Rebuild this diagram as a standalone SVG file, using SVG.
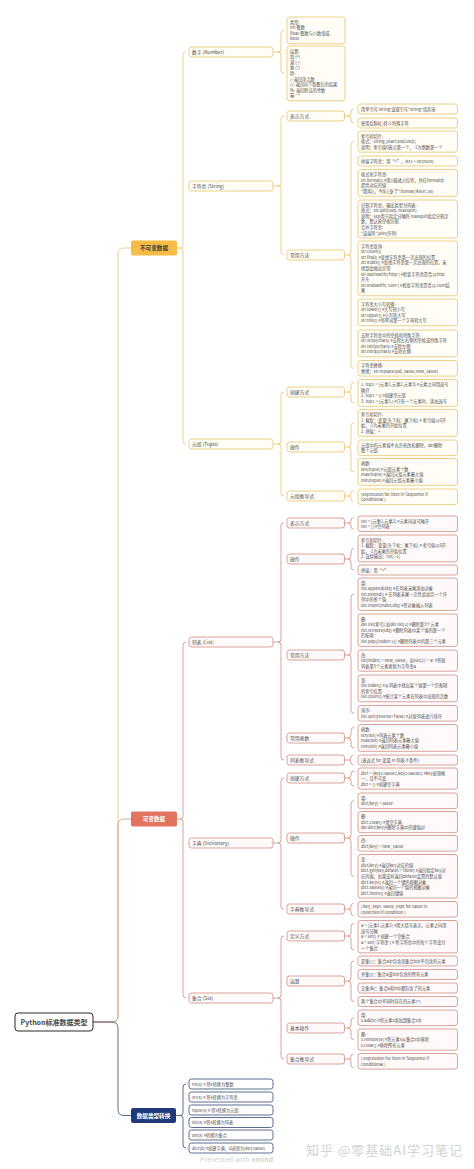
<svg xmlns="http://www.w3.org/2000/svg" width="474" height="1169" viewBox="0 0 474 1169">
<style>
text{font-family:"Noto Sans CJK SC","Noto Sans",sans-serif;fill:#4a4a4a}
.lf{font-size:4.2px}
.lb{font-size:4.8px}
.y rect{fill:#fffdf6;stroke:#e9c36c;stroke-width:0.8}
.r rect{fill:#fffaf9;stroke:#cf8c7f;stroke-width:0.8}
.n rect{fill:#ffffff;stroke:#34477a;stroke-width:0.8}
.cy{fill:none;stroke:#e9c36c;stroke-width:0.8}
.cr{fill:none;stroke:#cf8c7f;stroke-width:0.8}
.cn{fill:none;stroke:#34477a;stroke-width:0.8}
.main{font-size:5.6px;font-weight:bold;text-anchor:middle}
</style>
<rect width="474" height="1169" fill="#ffffff"/>

<g id="connectors">
<path class="cy" stroke-width="1.1" d="M93,1022 L112,1022 Q118,1022 118,1016 L118,254 Q118,248 124,248 L131,248"/>
<path class="cr" stroke-width="1.1" d="M93,1022 L112,1022 Q118,1022 118,1016 L118,825 Q118,819 124,819 L131,819"/>
<path class="cn" stroke-width="1.1" d="M93,1022 L112,1022 Q118,1022 118,1028 L118,1109.5 Q118,1115.5 124,1115.5 L131,1115.5"/>
<path class="cy" d="M177,248 L180,248 M186,52 Q183,52 183,55 L183,245 Q183,248 180,248 Q183,248 183,251 L183,441 Q183,444 186,444"/>
<path class="cr" d="M177,819 L180,819 M186,642 Q183,642 183,645 L183,816 Q183,819 180,819 Q183,819 183,822 L183,995 Q183,998 186,998"/>
<path class="cn" d="M176,1115.5 L180,1115.5 M186,1084 Q183,1084 183,1087 L183,1112.5 Q183,1115.5 180,1115.5 Q183,1115.5 183,1118.5 L183,1145 Q183,1148 186,1148"/>
<path class="cy" d="M273,52 L278,52 M284,30.4 Q281,30.4 281,33.4 L281,49 Q281,52 278,52 Q281,52 281,55 L281,70.4 Q281,73.4 284,73.4"/>
<path class="cy" d="M273,186 L278,186 M284,116 Q281,116 281,119 L281,183 Q281,186 278,186 Q281,186 281,189 L281,252 Q281,255 284,255"/>
<path class="cy" d="M273,444 L278,444 M284,392 Q281,392 281,395 L281,441 Q281,444 278,444 Q281,444 281,447 L281,493 Q281,496 284,496"/>
<path class="cr" d="M273,642 L278,642 M284,523 Q281,523 281,526 L281,639 Q281,642 278,642 Q281,642 281,645 L281,757 Q281,760 284,760"/>
<path class="cr" d="M273,843 L278,843 M284,778 Q281,778 281,781 L281,840 Q281,843 278,843 Q281,843 281,846 L281,906 Q281,909 284,909"/>
<path class="cr" d="M273,998 L278,998 M284,936 Q281,936 281,939 L281,995 Q281,998 278,998 Q281,998 281,1001 L281,1056 Q281,1059 284,1059"/>
<path class="cy" d="M344,116 L348,116 M354,109 Q351,109 351,112 L351,113 Q351,116 348,116 Q351,116 351,119 L351,120 Q351,123 354,123"/>
<path class="cy" d="M344,255 L348,255 M354,141.6 Q351,141.6 351,144.6 L351,252 Q351,255 348,255 Q351,255 351,258 L351,365.3 Q351,368.3 354,368.3"/>
<path class="cy" d="M344,392 L348,392 M354,382.5 Q351,382.5 351,385.5 L351,389 Q351,392 348,392 Q351,392 351,395 L351,400 Q351,403 354,403"/>
<path class="cy" d="M344,447 L348,447 M354,422.9 Q351,422.9 351,425.9 L351,444 Q351,447 348,447 Q351,447 351,450 L351,468.9 Q351,471.9 354,471.9"/>
<path class="cy" d="M344,496 L348.5,496 M353.5,490.5 Q351,490.5 351,493 L351,493.5 Q351,496 348.5,496 Q351,496 351,498.5 L351,499.5 Q351,502 353.5,502"/>
<path class="cr" d="M344,523 L348.5,523 M353.5,517.5 Q351,517.5 351,520 L351,520.5 Q351,523 348.5,523 Q351,523 351,525.5 L351,526.5 Q351,529 353.5,529"/>
<path class="cr" d="M344,559 L348,559 M354,548.5 Q351,548.5 351,551.5 L351,556 Q351,559 348,559 Q351,559 351,562 L351,567 Q351,570 354,570"/>
<path class="cr" d="M344,655 L348,655 M354,594.2 Q351,594.2 351,597.2 L351,652 Q351,655 348,655 Q351,655 351,658 L351,710.3 Q351,713.3 354,713.3"/>
<path class="cr" d="M344,738 L348,738 M354,727.5 Q351,727.5 351,730.5 L351,735 Q351,738 348,738 Q351,738 351,741 L351,745 Q351,748 354,748"/>
<path class="cr" d="M344,760 L348.5,760 M353.5,755 Q351,755 351,757.5 Q351,760 348.5,760 Q351,760 351,762.5 Q351,765 353.5,765"/>
<path class="cr" d="M344,778 L348,778 M354,771 Q351,771 351,774 L351,775 Q351,778 348,778 Q351,778 351,781 L351,783 Q351,786 354,786"/>
<path class="cr" d="M344,838 L348,838 M354,800.8 Q351,800.8 351,803.8 L351,835 Q351,838 348,838 Q351,838 351,841 L351,873.3 Q351,876.3 354,876.3"/>
<path class="cr" d="M344,909 L348.5,909 M353.5,903.5 Q351,903.5 351,906 L351,906.5 Q351,909 348.5,909 Q351,909 351,911.5 L351,913 Q351,915.5 353.5,915.5"/>
<path class="cr" d="M344,936 L348,936 M354,923.5 Q351,923.5 351,926.5 L351,933 Q351,936 348,936 Q351,936 351,939 L351,947 Q351,950 354,950"/>
<path class="cr" d="M344,981 L348,981 M354,961 Q351,961 351,964 L351,978 Q351,981 348,981 Q351,981 351,984 L351,998.5 Q351,1001.5 354,1001.5"/>
<path class="cr" d="M344,1028 L348,1028 M354,1017.8 Q351,1017.8 351,1020.8 L351,1025 Q351,1028 348,1028 Q351,1028 351,1031 L351,1036.6 Q351,1039.6 354,1039.6"/>
<path class="cr" d="M344,1059 L348.5,1059 M353.5,1054 Q351,1054 351,1056.5 Q351,1059 348.5,1059 Q351,1059 351,1061.5 L351,1065 Q351,1067.5 353.5,1067.5"/>
</g>

<g id="n-root"><rect x="15" y="1013" width="78" height="18" rx="3" fill="#ffffff" stroke="#2b2b2b" stroke-width="1"/><text x="54" y="1024.6" font-size="7px" font-weight="bold" text-anchor="middle" fill="#222">Python标准数据类型</text></g>
<g id="n-immutable"><rect x="131" y="240.5" width="46" height="15" rx="2" fill="#f5bd47"/><text class="main" x="154" y="250" style="fill:#3a3a3a">不可变数据</text></g>
<g id="n-mutable"><rect x="131" y="811.5" width="46" height="15" rx="2" fill="#e2735f"/><text class="main" x="154" y="821" style="fill:#ffffff">可变数据</text></g>
<g id="n-convert"><rect x="131" y="1108" width="45" height="15" rx="2" fill="#1f3a7a"/><text class="main" x="153.5" y="1117.6" style="fill:#ffffff">数据类型转换</text></g>

<g id="n-number" class="y"><rect x="189" y="47" width="84" height="10" rx="2.5"/><text class="lb" x="192" y="53.8">数字 (Number)</text></g>
<g id="n-number-type" class="y"><rect x="287" y="17" width="58" height="26.8" rx="2.5"/><text class="lf" x="290" y="23.6">类型:<tspan x="290" dy="5.6">int-整数</tspan><tspan x="290" dy="5.6">float-整数与小数组成</tspan><tspan x="290" dy="5.6">bool</tspan></text></g>
<g id="n-number-op" class="y"><rect x="287" y="46" width="58" height="54.8" rx="2.5"/><text class="lf" x="290" y="52.6">运算:<tspan x="290" dy="5.6">加 (+)</tspan><tspan x="290" dy="5.6">减 (-)</tspan><tspan x="290" dy="5.6">乘 (*)</tspan><tspan x="290" dy="5.6">除:</tspan><tspan x="290" dy="5.6">/: 返回浮点数</tspan><tspan x="290" dy="5.6">//: 返回向下取整后的结果</tspan><tspan x="290" dy="5.6">%: 返回除法的余数</tspan><tspan x="290" dy="5.6">幂: **</tspan></text></g>

<g id="n-string" class="y"><rect x="189" y="181" width="84" height="10" rx="2.5"/><text class="lb" x="192" y="187.8">字符串 (String)</text></g>
<g id="n-str-repr" class="y"><rect x="287" y="111" width="57.5" height="10" rx="2.5"/><text class="lb" x="290" y="117.8">表示方式</text></g>
<g id="n-str-repr-1" class="y"><rect x="358" y="104" width="99.5" height="10" rx="2.5"/><text class="lf" x="361" y="110.6">用单引号'string'或双引号"string"括起来</text></g>
<g id="n-str-repr-2" class="y"><rect x="358" y="118" width="99.5" height="10" rx="2.5"/><text class="lf" x="361" y="124.6">使用反斜杠\转义特殊字符</text></g>
<g id="n-str-method" class="y"><rect x="287" y="250" width="57.5" height="10" rx="2.5"/><text class="lb" x="290" y="256.8">常用方法</text></g>
<g id="n-str-m1" class="y"><rect x="358" y="131" width="99.5" height="21.2" rx="2.5"/><text class="lf" x="361" y="137.6">索引和切片:<tspan x="361" dy="5.6">格式：string [start:end:step]</tspan><tspan x="361" dy="5.6">说明：索引值0表示第一个，-1为倒数第一个</tspan></text></g>
<g id="n-str-m2" class="y"><rect x="358" y="156" width="99.5" height="10" rx="2.5"/><text class="lf" x="361" y="162.6">拼接字符串：用“+”，str1 + str(num)</text></g>
<g id="n-str-m3" class="y"><rect x="358" y="169.5" width="99.5" height="26.8" rx="2.5"/><text class="lf" x="361" y="176.1">格式化字符串:<tspan x="361" dy="5.6">str.format() #用{}描述占位符，并在format中</tspan><tspan x="361" dy="5.6">提供对应的值</tspan><tspan x="361" dy="5.6">"我叫{}，今年{}岁了".format('Alice',36)</tspan></text></g>
<g id="n-str-m4" class="y"><rect x="358" y="200" width="99.5" height="38" rx="2.5"/><text class="lf" x="361" y="206.6">分割字符串，输出类型为列表:<tspan x="361" dy="5.6">格式：str.split(sep, maxsplit)</tspan><tspan x="361" dy="5.6">说明：sep用于指定分隔符 maxsplit指定分割次</tspan><tspan x="361" dy="5.6">数，默认按空格分割</tspan><tspan x="361" dy="5.6">合并字符串:</tspan><tspan x="361" dy="5.6">"连接符".join(序列)</tspan></text></g>
<g id="n-str-m5" class="y"><rect x="358" y="241" width="99.5" height="54.8" rx="2.5"/><text class="lf" x="361" y="247.6">字符串查询:<tspan x="361" dy="5.6">str.count()</tspan><tspan x="361" dy="5.6">str.find() #查找字符串第一次出现的位置</tspan><tspan x="361" dy="5.6">str.index() #查找字符串第一次出现的位置，未</tspan><tspan x="361" dy="5.6">找到会抛出异常</tspan><tspan x="361" dy="5.6">str.startswith('http') #检查字符串是否以http</tspan><tspan x="361" dy="5.6">开头</tspan><tspan x="361" dy="5.6">str.endswith('.com') #检查字符串是否以.com结</tspan><tspan x="361" dy="5.6">尾</tspan></text></g>
<g id="n-str-m6" class="y"><rect x="358" y="299" width="99.5" height="26.8" rx="2.5"/><text class="lf" x="361" y="305.6">字符串大小写转换:<tspan x="361" dy="5.6">str.lower() #大写转小写</tspan><tspan x="361" dy="5.6">str.upper() #小写转大写</tspan><tspan x="361" dy="5.6">str.title() #将单词第一个字母转大写</tspan></text></g>
<g id="n-str-m7" class="y"><rect x="358" y="330" width="99.5" height="26.8" rx="2.5"/><text class="lf" x="361" y="336.6">去除字符串中的空格和特殊字符:<tspan x="361" dy="5.6">str.strip(chars) #去除左右侧的空格或特殊字符</tspan><tspan x="361" dy="5.6">str.lstrip(chars) #去除左侧</tspan><tspan x="361" dy="5.6">str.rstrip(chars) #去除右侧</tspan></text></g>
<g id="n-str-m8" class="y"><rect x="358" y="360.5" width="99.5" height="15.6" rx="2.5"/><text class="lf" x="361" y="367.1">字符串替换:<tspan x="361" dy="5.6">替换：str.replace(old_value,new_value)</tspan></text></g>

<g id="n-tuple" class="y"><rect x="189" y="439" width="84" height="10" rx="2.5"/><text class="lb" x="192" y="445.8">元组 (Tuple)</text></g>
<g id="n-tup-create" class="y"><rect x="287" y="387" width="57.5" height="10" rx="2.5"/><text class="lb" x="290" y="393.8">创建方式</text></g>
<g id="n-tup-create-1" class="y"><rect x="358" y="379.5" width="99.5" height="26.8" rx="2.5"/><text class="lf" x="361" y="386.1">1. tup1 = (元素1,元素2,元素3) #元素之间用逗号<tspan x="361" dy="5.6">隔开</tspan><tspan x="361" dy="5.6">2. tup1 = () #创建空元组</tspan><tspan x="361" dy="5.6">3. tup1 = (元素1,) #只有一个元素时，添加逗号</tspan></text></g>
<g id="n-tup-op" class="y"><rect x="287" y="442" width="57.5" height="10" rx="2.5"/><text class="lb" x="290" y="448.8">操作</text></g>
<g id="n-tup-op-1" class="y"><rect x="358" y="409.5" width="99.5" height="26.8" rx="2.5"/><text class="lf" x="361" y="416.1">索引和切片:<tspan x="361" dy="5.6">1. 截取：变量[头下标：尾下标] # 索引值以0开</tspan><tspan x="361" dy="5.6">始，-1为末尾的开始位置</tspan><tspan x="361" dy="5.6">2. 拼接：+</tspan></text></g>
<g id="n-tup-op-2" class="y"><rect x="358" y="440" width="99.5" height="15.6" rx="2.5"/><text class="lf" x="361" y="446.6">元组中的元素值不允许修改和删除，del删除<tspan x="361" dy="5.6">整个元组</tspan></text></g>
<g id="n-tup-op-3" class="y"><rect x="358" y="458.5" width="99.5" height="26.8" rx="2.5"/><text class="lf" x="361" y="465.1">函数:<tspan x="361" dy="5.6">len(tuple) #元组元素个数</tspan><tspan x="361" dy="5.6">max(tuple) #返回元组元素最大值</tspan><tspan x="361" dy="5.6">min(tuple) #返回元组元素最小值</tspan></text></g>
<g id="n-tup-comp" class="y"><rect x="287" y="491" width="57.5" height="10" rx="2.5"/><text class="lb" x="290" y="497.8">元组推导式</text></g>
<g id="n-tup-comp-1" class="y"><rect x="358" y="489" width="99.5" height="15.6" rx="2.5"/><text class="lf" x="361" y="495.6">(expression for item in Sequence if<tspan x="361" dy="5.6">conditional )</tspan></text></g>

<g id="n-list" class="r"><rect x="189" y="637" width="84" height="10" rx="2.5"/><text class="lb" x="192" y="643.8">列表 (List)</text></g>
<g id="n-list-repr" class="r"><rect x="287" y="518" width="57.5" height="10" rx="2.5"/><text class="lb" x="290" y="524.8">表示方式</text></g>
<g id="n-list-repr-1" class="r"><rect x="358" y="516" width="99.5" height="15.6" rx="2.5"/><text class="lf" x="361" y="522.6">list = [元素1,元素2] #元素间逗号隔开<tspan x="361" dy="5.6">list = [] #空列表</tspan></text></g>
<g id="n-list-op" class="r"><rect x="287" y="554" width="57.5" height="10" rx="2.5"/><text class="lb" x="290" y="560.8">操作</text></g>
<g id="n-list-op-1" class="r"><rect x="358" y="535" width="99.5" height="26.8" rx="2.5"/><text class="lf" x="361" y="541.6">索引和切片:<tspan x="361" dy="5.6">1. 截取：变量[头下标：尾下标] # 索引值以0开</tspan><tspan x="361" dy="5.6">始，-1为末尾的开始位置</tspan><tspan x="361" dy="5.6">2. 连续输出：list[:-1]</tspan></text></g>
<g id="n-list-op-2" class="r"><rect x="358" y="565" width="99.5" height="10" rx="2.5"/><text class="lf" x="361" y="571.6">拼接：用“+”</text></g>
<g id="n-list-method" class="r"><rect x="287" y="650" width="57.5" height="10" rx="2.5"/><text class="lb" x="290" y="656.8">常用方法</text></g>
<g id="n-list-m1" class="r"><rect x="358" y="578" width="99.5" height="32.4" rx="2.5"/><text class="lf" x="361" y="584.6">增:<tspan x="361" dy="5.6">list.append(obj) #在列表末尾添加对象</tspan><tspan x="361" dy="5.6">list.extend() # 在列表末尾一次性追加另一个序</tspan><tspan x="361" dy="5.6">列中的多个值</tspan><tspan x="361" dy="5.6">list.insert(index,obj) #将对象插入列表</tspan></text></g>
<g id="n-list-m2" class="r"><rect x="358" y="614" width="99.5" height="32.4" rx="2.5"/><text class="lf" x="361" y="620.6">删:<tspan x="361" dy="5.6">del list[索引] 如del list[2] #删除第3个元素</tspan><tspan x="361" dy="5.6">list.remove(obj) #删除列表中某个值的第一个</tspan><tspan x="361" dy="5.6">匹配项</tspan><tspan x="361" dy="5.6">list.pop([index=2]) #删除列表中的第三个元素</tspan></text></g>
<g id="n-list-m3" class="r"><rect x="358" y="650" width="99.5" height="21.2" rx="2.5"/><text class="lf" x="361" y="656.6">改:<tspan x="361" dy="5.6">list[index] = new_value，如list[2] = 'a' #将原</tspan><tspan x="361" dy="5.6">列表第3个元素更新为字符串a</tspan></text></g>
<g id="n-list-m4" class="r"><rect x="358" y="675" width="99.5" height="26.8" rx="2.5"/><text class="lf" x="361" y="681.6">查:<tspan x="361" dy="5.6">list.index() #从列表中找出某个值第一个匹配项</tspan><tspan x="361" dy="5.6">的索引位置</tspan><tspan x="361" dy="5.6">list.count() #统计某个元素在列表中出现的次数</tspan></text></g>
<g id="n-list-m5" class="r"><rect x="358" y="705.5" width="99.5" height="15.6" rx="2.5"/><text class="lf" x="361" y="712.1">排序:<tspan x="361" dy="5.6">list.sort(reverse=False) #对原列表进行排序</tspan></text></g>
<g id="n-list-func" class="r"><rect x="287" y="733" width="57.5" height="10" rx="2.5"/><text class="lb" x="290" y="739.8">常用函数</text></g>
<g id="n-list-func-1" class="r"><rect x="358" y="724.5" width="99.5" height="26.8" rx="2.5"/><text class="lf" x="361" y="731.1">函数:<tspan x="361" dy="5.6">len(list) #列表元素个数</tspan><tspan x="361" dy="5.6">max(list) #返回列表元素最大值</tspan><tspan x="361" dy="5.6">min(list) #返回列表元素最小值</tspan></text></g>
<g id="n-list-comp" class="r"><rect x="287" y="755" width="57.5" height="10" rx="2.5"/><text class="lb" x="290" y="761.8">列表推导式</text></g>
<g id="n-list-comp-1" class="r"><rect x="358" y="755" width="99.5" height="10" rx="2.5"/><text class="lf" x="361" y="761.6">[表达式 for 变量 in 列表 if 条件]</text></g>

<g id="n-dict" class="r"><rect x="189" y="838" width="84" height="10" rx="2.5"/><text class="lb" x="192" y="844.8">字典 (Dictionary)</text></g>
<g id="n-dict-create" class="r"><rect x="287" y="773" width="57.5" height="10" rx="2.5"/><text class="lb" x="290" y="779.8">创建方式</text></g>
<g id="n-dict-create-1" class="r"><rect x="358" y="768" width="99.5" height="21.2" rx="2.5"/><text class="lf" x="361" y="774.6">dict = {key1:value1,key2:value2} #key必须唯<tspan x="361" dy="5.6">一，且不可变</tspan><tspan x="361" dy="5.6">dict = {} #创建空字典</tspan></text></g>
<g id="n-dict-op" class="r"><rect x="287" y="833" width="57.5" height="10" rx="2.5"/><text class="lb" x="290" y="839.8">操作</text></g>
<g id="n-dict-op-1" class="r"><rect x="358" y="793" width="99.5" height="15.6" rx="2.5"/><text class="lf" x="361" y="799.6">增:<tspan x="361" dy="5.6">dict[key] = value</tspan></text></g>
<g id="n-dict-op-2" class="r"><rect x="358" y="811.5" width="99.5" height="21.2" rx="2.5"/><text class="lf" x="361" y="818.1">删:<tspan x="361" dy="5.6">dict.clear() #清空字典</tspan><tspan x="361" dy="5.6">del dict[key]#删除字典中的键值对</tspan></text></g>
<g id="n-dict-op-3" class="r"><rect x="358" y="835.5" width="99.5" height="15.6" rx="2.5"/><text class="lf" x="361" y="842.1">改:<tspan x="361" dy="5.6">dict[key] = new_value</tspan></text></g>
<g id="n-dict-op-4" class="r"><rect x="358" y="854.5" width="99.5" height="43.6" rx="2.5"/><text class="lf" x="361" y="861.1">查:<tspan x="361" dy="5.6">dict[key] #返回key对应的值</tspan><tspan x="361" dy="5.6">dict.get(key,default = None) #返回指定key对</tspan><tspan x="361" dy="5.6">应的值，如果没有返回default设置的默认值</tspan><tspan x="361" dy="5.6">dict.keys() #返回一个键的视图对象</tspan><tspan x="361" dy="5.6">dict.values() #返回一个值的视图对象</tspan><tspan x="361" dy="5.6">dict.items() #返回键值</tspan></text></g>
<g id="n-dict-comp" class="r"><rect x="287" y="904" width="57.5" height="10" rx="2.5"/><text class="lb" x="290" y="910.8">字典推导式</text></g>
<g id="n-dict-comp-1" class="r"><rect x="358" y="901.5" width="99.5" height="15.6" rx="2.5"/><text class="lf" x="361" y="908.1">{ key_expr: value_expr for value in<tspan x="361" dy="5.6">collection if condition }</tspan></text></g>

<g id="n-set" class="r"><rect x="189" y="993" width="84" height="10" rx="2.5"/><text class="lb" x="192" y="999.8">集合 (Set)</text></g>
<g id="n-set-def" class="r"><rect x="287" y="931" width="57.5" height="10" rx="2.5"/><text class="lb" x="290" y="937.8">定义方式</text></g>
<g id="n-set-def-1" class="r"><rect x="358" y="920.5" width="99.5" height="32.4" rx="2.5"/><text class="lf" x="361" y="927.1">a = {元素1,元素2} #用大括号表示，元素之间用<tspan x="361" dy="5.6">逗号分隔</tspan><tspan x="361" dy="5.6">a = set() # 创建一个空集合</tspan><tspan x="361" dy="5.6">a = set('字符串') # 将字符串中的每个字符变为</tspan><tspan x="361" dy="5.6">一个集合</tspan></text></g>
<g id="n-set-calc" class="r"><rect x="287" y="976" width="57.5" height="10" rx="2.5"/><text class="lb" x="290" y="982.8">运算</text></g>
<g id="n-set-calc-1" class="r"><rect x="358" y="956" width="99.5" height="10" rx="2.5"/><text class="lf" x="361" y="962.6">差集(-)：集合a中包含而集合b中不包含的元素</text></g>
<g id="n-set-calc-2" class="r"><rect x="358" y="969.5" width="99.5" height="10" rx="2.5"/><text class="lf" x="361" y="976.1">并集(|)：集合a或b中包含的所有元素</text></g>
<g id="n-set-calc-3" class="r"><rect x="358" y="983" width="99.5" height="10" rx="2.5"/><text class="lf" x="361" y="989.6">交集(&amp;)：集合a和b中都包含了的元素</text></g>
<g id="n-set-calc-4" class="r"><rect x="358" y="996.5" width="99.5" height="10" rx="2.5"/><text class="lf" x="361" y="1003.1">两个集合中不同时存在的元素(^)</text></g>
<g id="n-set-op" class="r"><rect x="287" y="1023" width="57.5" height="10" rx="2.5"/><text class="lb" x="290" y="1029.8">基本操作</text></g>
<g id="n-set-op-1" class="r"><rect x="358" y="1010" width="99.5" height="15.6" rx="2.5"/><text class="lf" x="361" y="1016.6">增:<tspan x="361" dy="5.6">s.add(x) #将元素x添加到集合s中</tspan></text></g>
<g id="n-set-op-2" class="r"><rect x="358" y="1029" width="99.5" height="21.2" rx="2.5"/><text class="lf" x="361" y="1035.6">删:<tspan x="361" dy="5.6">s.remove(x) #将元素x从集合s中移除</tspan><tspan x="361" dy="5.6">s.clear() #移除所有元素</tspan></text></g>
<g id="n-set-comp" class="r"><rect x="287" y="1054" width="57.5" height="10" rx="2.5"/><text class="lb" x="290" y="1060.8">集合推导式</text></g>
<g id="n-set-comp-1" class="r"><rect x="358" y="1053.5" width="99.5" height="15.6" rx="2.5"/><text class="lf" x="361" y="1060.1">{ expression for item in Sequence if<tspan x="361" dy="5.6">conditional }</tspan></text></g>

<g id="n-conv-int" class="n"><rect x="189" y="1079" width="84" height="10" rx="2.5"/><text class="lf" x="192" y="1085.6">int(x) # 将x转换为整数</text></g>
<g id="n-conv-str" class="n"><rect x="189" y="1092" width="84" height="10" rx="2.5"/><text class="lf" x="192" y="1098.6">str(x) # 将x转换为字符串</text></g>
<g id="n-conv-tuple" class="n"><rect x="189" y="1105" width="84" height="10" rx="2.5"/><text class="lf" x="192" y="1111.6">tuple(x) # 将x转换为元组</text></g>
<g id="n-conv-list" class="n"><rect x="189" y="1117.5" width="84" height="10" rx="2.5"/><text class="lf" x="192" y="1124.1">list(x) #将x转换为列表</text></g>
<g id="n-conv-set" class="n"><rect x="189" y="1130" width="84" height="10" rx="2.5"/><text class="lf" x="192" y="1136.6">set(x) #转换为集合</text></g>
<g id="n-conv-dict" class="n"><rect x="189" y="1143" width="84" height="10" rx="2.5"/><text class="lf" x="192" y="1149.6">dict(d) #创建字典，d必须为(key,value)</text></g>

<text x="200" y="1161.5" font-size="6.5px" textLength="73" style="fill:#cfcfcf">Presented with <tspan font-weight="bold">xmind</tspan></text>
<text x="306" y="1155" font-size="13px" textLength="156" style="fill:#d2d2d2">知乎 @零基础AI学习笔记</text>
</svg>
